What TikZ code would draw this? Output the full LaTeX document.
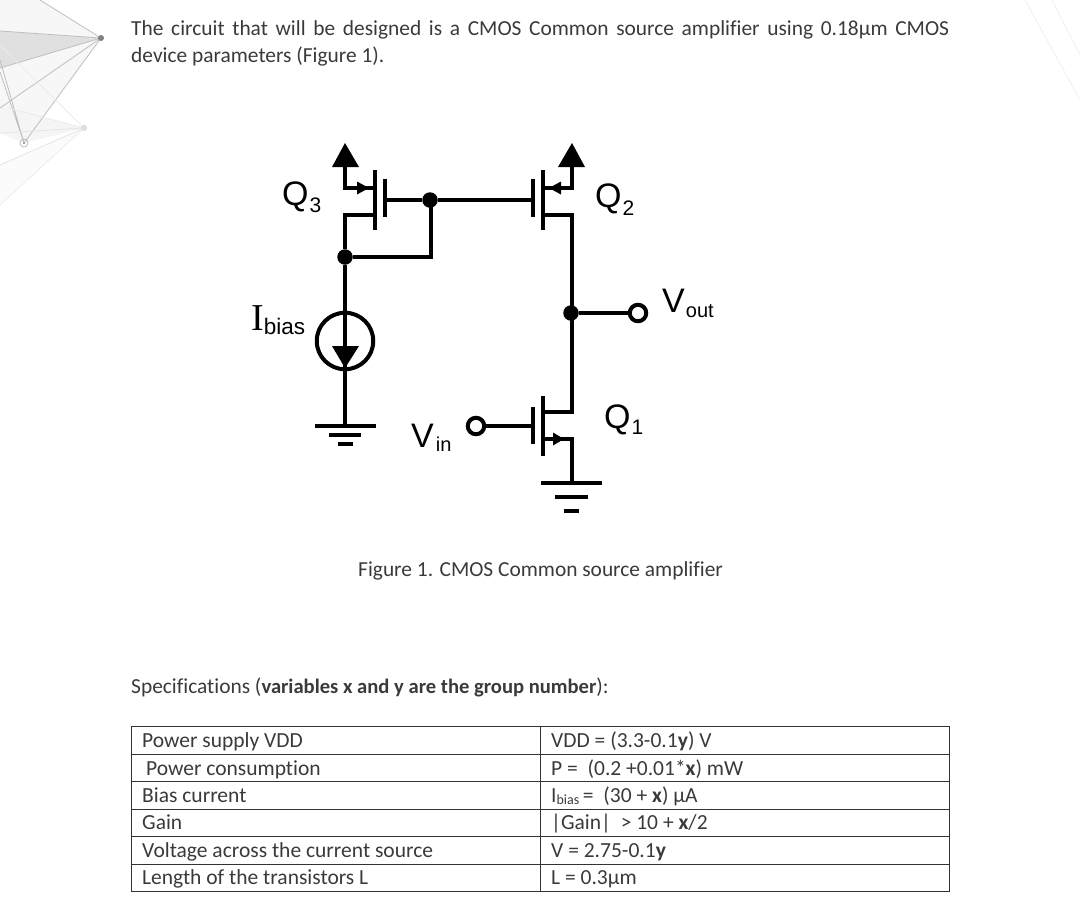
\documentclass[tikz,border=0pt]{standalone}
\usepackage{fontspec}
\setmainfont[Ligatures=NoCommon]{Carlito}
\newfontfamily\helv{Liberation Sans}
\newfontfamily\tms{Liberation Serif}
\definecolor{txt}{HTML}{3A3A3A}
\tikzset{
  wire/.style={line width=4pt,line cap=butt,line join=miter,black},
  tip/.style={fill=black,draw=none},
  junction/.style={circle,fill=black,draw=none,minimum size=15.5pt,inner sep=0pt},
  terminal/.style={circle,fill=white,draw=black,line width=4pt,minimum size=16.5pt,inner sep=0pt},
  body/.style={anchor=base west,inner sep=0pt,text=txt,font=\fontsize{21.4}{27}\selectfont},
  cell/.style={anchor=base west,inner sep=0pt,text=txt,font=\fontsize{21.5}{27}\selectfont},
  circlabel/.style={anchor=base west,inner sep=0pt,text=black,font=\helv\fontsize{34}{34}\selectfont},
  rule/.style={line width=1pt,draw=black!80},
  wm/.style={line width=0.8pt},
}
\newcommand{\subtxt}[4][21]{\kern#4pt\raisebox{-#3pt}{\fontsize{#1}{#1}\selectfont #2}}
\begin{document}
\begin{tikzpicture}[x=1pt,y=-1pt]
\useasboundingbox (0,0) rectangle (1080,906);
% watermark
\fill[black!3] (0,0) -- (40,0) -- (101,38) -- (24,143) -- (0,105) -- cycle;
\fill[black!12] (0,31) -- (101,38) -- (0,68) -- cycle;
\fill[black!4] (8,108) -- (84,128) -- (24,143) -- (0,133) -- (0,105) -- cycle;
\fill[black!1.5] (0,165) -- (84,128) -- (0,205) -- cycle;
\draw[wm,black!25] (40,0) -- (101,38);
\draw[wm,black!25] (0,31) -- (101,38);
\draw[wm,black!25] (0,68) -- (101,38);
\draw[wm,black!25] (0,108) -- (101,38);
\draw[wm,black!25] (24,143) -- (101,38);
\draw[wm,black!25] (0,72) -- (24,143) -- (0,60);
\draw[wm,black!10] (0,133) -- (84,128) -- (0,165);
\draw[wm,black!7] (84,128) -- (0,205);
\draw[wm,black!8] (0,45) -- (84,128);
\draw[wm,black!8] (8,108) -- (84,128);
\fill[black!50] (101,38) circle (3pt);
\fill[black!13] (84,128) circle (3.2pt);
\draw[black!30,line width=.7pt] (24,143) circle (4pt);
\fill[black!50] (24,143) circle (1pt);
\draw[black!5,line width=1pt] (1025,0) -- (1080,100);
\draw[black!5,line width=1pt] (1052,0) -- (1080,55);

% intro text
\node[body,text width=818pt,align=justify,anchor=north west] (intro) at (131,20.5) {The circuit that will be designed is a CMOS Common source amplifier using 0.18µm CMOS\linebreak device parameters (Figure 1).};

% coordinates
\coordinate (q3s) at (375,188);
\coordinate (q3d) at (375,215);
\coordinate (q3c) at (345,188);
\coordinate (q3e) at (345,215);
\coordinate (q3v) at (345,167);
\coordinate (q3gb) at (385,200);
\coordinate (q2gb) at (533,200);
\coordinate (q2s) at (543,188);
\coordinate (q2d) at (543,215);
\coordinate (q2c) at (572,188);
\coordinate (q2e) at (572,215);
\coordinate (q2v) at (572,167);
\coordinate (q1gb) at (533,426);
\coordinate (q1d) at (543,412);
\coordinate (q1s) at (543,439);
\coordinate (q1e) at (572,412);
\coordinate (q1c) at (572,439);
\coordinate (gnd1) at (572,483);
\coordinate (gnd3) at (345,426);
\coordinate (fb) at (431,257);

\node[junction] (ng) at (430,200) {};
\node[junction] (nd) at (345,257) {};
\node[junction] (nout) at (571,313) {};
\node[terminal] (vout) at (638,313) {};
\node[terminal] (vin) at (476,426) {};
\node[circle,draw=black,line width=4pt,minimum size=56.5pt,inner sep=0pt] (isrc) at (345,341) {};

% Q3
\draw[wire] (q3v) -- (q3c) -- (q3s);
\draw[wire] (q3s) ++(0,-18) -- ++(0,60);
\draw[wire] (q3gb) ++(0,-21) -- ++(0,38);
\draw[wire] (q3d) -- (q3e) -- (nd);
\draw[wire] (q3gb) -- (ng);
\draw[wire] (ng) -- (q2gb);
\draw[wire] (431,200) -- (fb) -- (nd);
\fill[tip] (345,143) -- (359,167) -- (332,167) -- cycle;
\fill[tip] (369,188) -- (357,181.5) -- (357,194.5) -- cycle;
% Q2
\draw[wire] (q2v) -- (q2c) -- (q2s);
\draw[wire] (q2s) ++(0,-18) -- ++(0,60);
\draw[wire] (q2gb) ++(0,-21) -- ++(0,38);
\draw[wire] (q2d) -- (q2e) -- (q1e) -- (q1d);
\fill[tip] (572,143) -- (585,167) -- (558,167) -- cycle;
\fill[tip] (549,188) -- (561,181.5) -- (561,194.5) -- cycle;
% output
\draw[wire] (nout) -- (vout);
% Q1
\draw[wire] (q1d) ++(0,-16) -- ++(0,60);
\draw[wire] (q1gb) ++(0,-19) -- ++(0,37);
\draw[wire] (vin) -- (q1gb);
\draw[wire] (q1s) -- (q1c) -- (gnd1);
\fill[tip] (564,439) -- (553,432.5) -- (553,445.5) -- cycle;
% grounds
\draw[wire] (541,483) -- (602,483);
\draw[wire] (555,497) -- (588,497);
\draw[wire] (564,511) -- (579,511);
\draw[wire] (nd) -- (isrc.north);
\draw[wire] (isrc.north) -- (isrc.south);
\draw[wire] (isrc.south) -- (gnd3);
\draw[wire] (315,426) -- (376,426);
\draw[wire] (329,435) -- (361,435);
\draw[wire] (338,444) -- (353,444);
\fill[tip] (345,368) -- (332,346) -- (359,346) -- cycle;

% circuit labels
\node[circlabel] (lq3) at (282,205) {Q\subtxt{3}{7}{1}};
\node[circlabel] (lq2) at (595,207) {Q\subtxt{2}{8}{1}};
\node[circlabel] (lq1) at (604,428) {Q\subtxt{1}{6}{1}};
\node[circlabel] (lib) at (251,330) {{\tms\fontsize{38}{38}\selectfont I}\subtxt[22.5]{bias}{4}{0}};
\node[circlabel] (lvo) at (662,312) {V{\fontsize{20}{20}\selectfont\kern1pt\raisebox{-5pt}{out}}};
\node[circlabel] (lvi) at (411,447) {V{\fontsize{20}{20}\selectfont\kern2pt\raisebox{-4pt}{in}}};

% caption
\node[body] (cap) at (358,576) {Figure 1. CMOS Common source amplifier};
\node[body] (spec) at (131,693) {Specifications ({\bfseries\fontsize{20.6}{27}\selectfont variables x and y are the group number}):};

% table
\draw[rule] (131,726) rectangle (949,891);
\foreach \yy in {754,781,809,836,864} \draw[rule] (131,\yy) -- (949,\yy);
\draw[rule] (540,726) -- (540,891);
\node[cell] (a1) at (142,747) {Power supply VDD};
\node[cell] (a2) at (146,775) {Power consumption};
\node[cell] (a3) at (142,802) {Bias current};
\node[cell] (a4) at (142,829) {Gain};
\node[cell] (a5) at (142,857) {Voltage across the current source};
\node[cell] (a6) at (142,884) {Length of the transistors L};
\node[cell] (b1) at (551,747) {VDD = (3.3-0.1{\bfseries y}) V};
\node[cell] (b2) at (551,775) {P =\ \ (0.2 +0.01*{\bfseries x}) mW};
\node[cell] (b3) at (551,802) {I\raisebox{-2pt}{\fontsize{14}{14}\selectfont bias}\,=\ \ (30 + {\bfseries x}) µA};
\node[cell] (b4) at (551,829) {|Gain|\ \ > 10 + {\bfseries x}/2};
\node[cell] (b5) at (551,857) {V = 2.75-0.1{\bfseries y}};
\node[cell] (b6) at (551,884) {L = 0.3µm};
\end{tikzpicture}
\end{document}
